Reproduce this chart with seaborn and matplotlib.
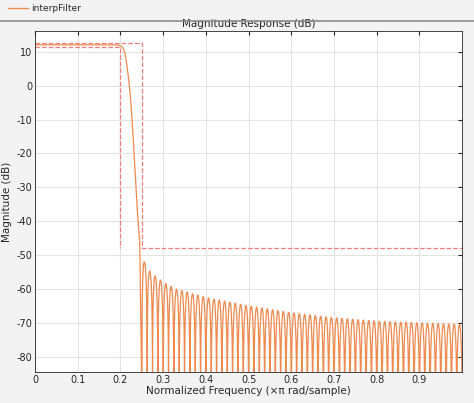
import numpy as np
import pandas as pd
import seaborn as sns
import matplotlib.pyplot as plt
from matplotlib.lines import Line2D

# passband / transition points
pass_freq = [0.0, 0.05, 0.1, 0.15, 0.19, 0.2, 0.205, 0.21, 0.215, 0.22, 0.225, 0.23, 0.235, 0.24, 0.245, 0.25]
pass_db = [12.04, 12.04, 12.04, 12.04, 12.0, 11.8, 11.3, 9.8, 6.0, 1.0, -6.0, -16.0, -27.0, -38.0, -46.0, -51.0]

# stopband sidelobe peak envelope (dB)
env_freq = [0.25, 0.26, 0.27, 0.3, 0.33, 0.4, 0.5, 0.6, 0.7, 0.8, 0.9, 1.0]
env_db = [-50.5, -53.0, -55.0, -58.0, -60.0, -62.5, -65.0, -67.0, -68.5, -69.5, -70.0, -70.5]
lobe_width = 0.0125

# design mask
mask_upper_f = [0.0, 0.25, 0.25, 1.0]
mask_upper_db = [12.6, 12.6, -48.0, -48.0]
mask_lower_f = [0.0, 0.2, 0.2]
mask_lower_db = [11.5, 11.5, -48.0]

# build stopband lobes
f_stop = np.linspace(0.25, 1.0, 6000)
peaks = np.interp(f_stop, env_freq, env_db)
shape = 20 * np.log10(np.abs(np.sin(np.pi * (f_stop - 0.25) / lobe_width)) + 1e-4)
stop_db = peaks + shape

df = pd.DataFrame({
    "freq": np.concatenate([pass_freq, f_stop]),
    "mag": np.concatenate([pass_db, stop_db]),
})

line_c = "#EE8A4E"
mask_c = "#F37C7C"

sns.set_style("whitegrid", {"grid.color": "#E3E3E3", "axes.edgecolor": "#262626"})
plt.rcParams["axes.unicode_minus"] = False
fig = plt.figure(figsize=(4.74, 4.03), dpi=100, facecolor="#F3F3F3")
ax = fig.add_axes([0.074, 0.077, 0.901, 0.845])
ax.set_facecolor("white")

sns.lineplot(data=df, x="freq", y="mag", color=line_c, lw=0.9, ax=ax, sort=False)
ax.plot(mask_upper_f, mask_upper_db, ls="--", color=mask_c, lw=0.9)
ax.plot(mask_lower_f, mask_lower_db, ls="--", color=mask_c, lw=0.9)

ax.set_xlim(0, 1)
ax.set_ylim(-84.5, 16)
ax.set_xticks(np.arange(0, 1.0, 0.1))
ax.set_xticklabels(["0"] + [f"{v:.1f}" for v in np.arange(0.1, 1.0, 0.1)])
ax.set_yticks(np.arange(-80, 11, 10))
ax.tick_params(labelsize=7, colors="#262626", direction="in", length=3, top=True, right=True, pad=2)
ax.set_xlabel("Normalized Frequency (\u00d7\u03c0 rad/sample)", fontsize=7.5, labelpad=1)
ax.set_ylabel("Magnitude (dB)", fontsize=7.5)
ax.yaxis.set_label_coords(-0.055, 0.5)
ax.set_title("Magnitude Response (dB)", fontsize=7.5, pad=3)
for s in ax.spines.values():
    s.set_linewidth(0.6)

# legend strip at the top
fig.add_artist(Line2D([0, 1], [0.948, 0.948], color="#8C8C8C", lw=1.2))
fig.legend(handles=[Line2D([], [], color=line_c, lw=1)], labels=["interpFilter"],
           loc="upper left", bbox_to_anchor=(0.0, 1.01), frameon=False, fontsize=6.5,
           handlelength=2.2, handletextpad=0.3)

fig.savefig("out.png", dpi=100, facecolor=fig.get_facecolor())
